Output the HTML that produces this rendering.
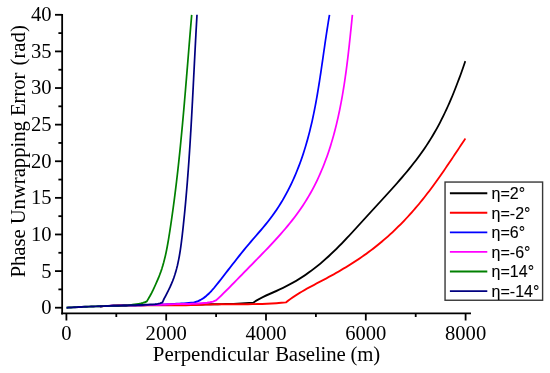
<!DOCTYPE html>
<html><head><meta charset="utf-8"><title>Phase Unwrapping Error vs Perpendicular Baseline</title>
<style>
html,body{margin:0;padding:0;background:#fff;}
svg{display:block}
.t{font-family:"Liberation Serif",serif;font-size:20.6px;fill:#000}
.l{font-family:"Liberation Sans",sans-serif;font-size:16px;fill:#000;stroke:#000;stroke-width:0.1px}
</style></head><body>
<svg width="550" height="373" viewBox="0 0 550 373">
<rect width="550" height="373" fill="#fff"/>

<g transform="scale(0.88,1)" fill="none" stroke-width="1.95" stroke-linejoin="round" stroke-linecap="butt">
<path d="M113.64,306.24 L118.10,306.10 L122.56,305.97 L127.03,305.83 L131.49,305.70 L135.96,305.58 L140.42,305.47 L144.88,305.39 L149.35,305.33 L153.81,305.27 L158.28,305.23 L162.74,305.18 L167.20,305.14 L171.67,305.09 L176.13,305.03 L180.59,304.97 L185.06,304.92 L189.52,304.86 L193.99,304.81 L198.45,304.77 L202.91,304.74 L207.38,304.71 L211.84,304.67 L216.31,304.64 L220.77,304.59 L225.23,304.53 L229.70,304.45 L234.16,304.37 L238.62,304.30 L243.09,304.24 L247.55,304.20 L252.02,304.15 L256.48,304.09 L260.94,304.01 L265.41,303.87 L269.87,303.65 L274.34,303.41 L278.80,303.11 L283.26,302.87 L287.74,302.72 L291.25,300.65 L294.88,298.78 L298.61,297.07 L302.41,295.48 L306.26,293.97 L310.13,292.50 L314.00,291.00 L317.84,289.46 L321.65,287.85 L325.42,286.18 L329.16,284.44 L332.86,282.64 L336.51,280.77 L340.11,278.85 L343.67,276.86 L347.18,274.81 L350.63,272.70 L354.03,270.52 L357.37,268.29 L360.66,266.01 L363.90,263.67 L367.09,261.28 L370.24,258.85 L373.35,256.37 L376.42,253.85 L379.45,251.30 L382.46,248.71 L385.43,246.09 L388.38,243.44 L391.30,240.77 L394.21,238.07 L397.09,235.36 L399.97,232.63 L402.83,229.89 L405.68,227.14 L408.53,224.38 L411.38,221.62 L414.23,218.86 L417.08,216.10 L419.94,213.35 L422.80,210.60 L425.67,207.86 L428.54,205.12 L431.41,202.38 L434.27,199.64 L437.13,196.90 L439.98,194.15 L442.82,191.40 L445.65,188.64 L448.46,185.87 L451.25,183.09 L454.02,180.30 L456.77,177.49 L459.50,174.67 L462.19,171.83 L464.86,168.97 L467.49,166.10 L470.10,163.20 L472.66,160.27 L475.18,157.33 L477.67,154.35 L480.10,151.35 L482.50,148.32 L484.84,145.25 L487.13,142.15 L489.37,139.02 L491.55,135.85 L493.68,132.66 L495.77,129.43 L497.80,126.17 L499.78,122.88 L501.72,119.57 L503.61,116.24 L505.45,112.88 L507.26,109.50 L509.02,106.11 L510.74,102.69 L512.42,99.27 L514.07,95.83 L515.68,92.38 L517.25,88.92 L518.79,85.45 L520.30,81.97 L521.78,78.50 L523.23,75.01 L524.65,71.53 L526.04,68.05 L527.41,64.57 L528.75,61.10" stroke="#000000"/>
<path d="M113.64,306.24 L119.06,306.07 L124.48,305.90 L129.90,305.73 L135.31,305.58 L140.73,305.46 L146.15,305.38 L151.57,305.32 L156.99,305.26 L162.41,305.22 L167.83,305.20 L173.25,305.20 L178.67,305.23 L184.09,305.26 L189.51,305.29 L194.93,305.30 L200.35,305.29 L205.77,305.26 L211.19,305.21 L216.61,305.15 L222.03,305.04 L227.45,304.74 L232.87,304.50 L238.29,304.42 L243.71,304.36 L249.13,304.31 L254.55,304.27 L259.97,304.24 L265.38,304.21 L270.80,304.18 L276.22,304.16 L281.64,304.15 L287.06,304.12 L292.48,304.06 L297.90,303.92 L303.32,303.72 L308.74,303.49 L314.16,303.20 L319.58,302.83 L324.99,302.39 L327.50,300.68 L330.04,299.04 L332.62,297.44 L335.24,295.90 L337.88,294.39 L340.56,292.93 L343.26,291.51 L345.98,290.11 L348.72,288.74 L351.48,287.40 L354.25,286.07 L357.03,284.76 L359.81,283.46 L362.60,282.16 L365.39,280.86 L368.18,279.56 L370.97,278.26 L373.74,276.94 L376.51,275.60 L379.27,274.26 L382.02,272.90 L384.75,271.52 L387.48,270.13 L390.19,268.72 L392.89,267.29 L395.58,265.85 L398.25,264.38 L400.91,262.90 L403.56,261.40 L406.19,259.88 L408.80,258.33 L411.40,256.77 L413.98,255.18 L416.54,253.57 L419.08,251.94 L421.60,250.28 L424.11,248.59 L426.59,246.89 L429.06,245.15 L431.50,243.40 L433.93,241.62 L436.33,239.82 L438.72,237.99 L441.08,236.15 L443.42,234.28 L445.75,232.39 L448.05,230.49 L450.33,228.56 L452.59,226.61 L454.83,224.65 L457.05,222.66 L459.25,220.66 L461.42,218.64 L463.58,216.60 L465.71,214.55 L467.82,212.48 L469.91,210.40 L471.97,208.30 L474.02,206.18 L476.04,204.06 L478.04,201.91 L480.02,199.76 L481.99,197.59 L483.93,195.41 L485.85,193.22 L487.76,191.02 L489.65,188.81 L491.53,186.58 L493.39,184.35 L495.23,182.11 L497.07,179.86 L498.89,177.60 L500.70,175.34 L502.50,173.07 L504.30,170.79 L506.08,168.50 L507.85,166.21 L509.62,163.92 L511.38,161.62 L513.14,159.32 L514.89,157.01 L516.64,154.70 L518.39,152.39 L520.14,150.08 L521.88,147.76 L523.62,145.45 L525.37,143.13 L527.11,140.81 L528.86,138.50" stroke="#ff0000"/>
<path d="M113.64,306.24 L116.36,306.15 L119.09,306.07 L121.81,305.99 L124.53,305.91 L127.26,305.83 L129.98,305.75 L132.71,305.68 L135.43,305.60 L138.16,305.54 L140.88,305.47 L143.60,305.41 L146.33,305.36 L149.05,305.32 L151.78,305.28 L154.50,305.25 L157.23,305.21 L159.95,305.18 L162.67,305.14 L165.40,305.10 L168.12,305.05 L170.85,304.99 L173.57,304.92 L176.30,304.83 L179.02,304.73 L181.75,304.61 L184.47,304.49 L187.19,304.37 L189.92,304.24 L192.64,304.12 L195.37,303.99 L198.09,303.88 L200.82,303.76 L203.54,303.64 L206.26,303.51 L208.99,303.37 L211.71,303.21 L214.44,303.03 L217.16,302.82 L219.88,302.61 L223.98,301.53 L227.76,300.00 L231.27,298.09 L234.55,295.86 L237.62,293.37 L240.53,290.69 L243.31,287.86 L246.01,284.94 L248.66,282.00 L251.28,279.06 L253.88,276.12 L256.47,273.19 L259.04,270.26 L261.61,267.34 L264.18,264.43 L266.75,261.53 L269.34,258.63 L271.93,255.75 L274.55,252.87 L277.19,250.01 L279.86,247.16 L282.56,244.32 L285.30,241.49 L288.06,238.67 L290.83,235.85 L293.60,233.03 L296.37,230.20 L299.11,227.35 L301.81,224.48 L304.47,221.58 L307.07,218.65 L309.60,215.68 L312.05,212.67 L314.43,209.62 L316.74,206.53 L318.97,203.41 L321.14,200.25 L323.23,197.05 L325.26,193.83 L327.23,190.57 L329.12,187.28 L330.96,183.96 L332.73,180.62 L334.45,177.25 L336.10,173.85 L337.69,170.44 L339.23,167.00 L340.72,163.54 L342.15,160.06 L343.53,156.56 L344.85,153.04 L346.13,149.51 L347.36,145.97 L348.54,142.41 L349.68,138.85 L350.77,135.27 L351.82,131.68 L352.83,128.09 L353.80,124.49 L354.74,120.88 L355.63,117.26 L356.50,113.64 L357.33,110.01 L358.14,106.37 L358.92,102.73 L359.67,99.09 L360.40,95.44 L361.11,91.79 L361.79,88.13 L362.46,84.47 L363.12,80.81 L363.76,77.14 L364.39,73.48 L365.01,69.81 L365.62,66.14 L366.23,62.47 L366.83,58.80 L367.43,55.13 L368.03,51.46 L368.63,47.79 L369.23,44.13 L369.84,40.46 L370.46,36.80 L371.09,33.14 L371.73,29.48 L372.38,25.83 L373.05,22.18 L373.73,18.54 L374.43,14.90" stroke="#0000ff"/>
<path d="M113.64,306.24 L117.01,306.13 L120.39,306.03 L123.77,305.93 L127.14,305.83 L130.52,305.73 L133.90,305.63 L137.28,305.54 L140.65,305.47 L144.03,305.40 L147.41,305.36 L150.78,305.32 L154.16,305.28 L157.54,305.25 L160.91,305.22 L164.29,305.19 L167.67,305.14 L171.05,305.09 L174.42,305.00 L177.80,304.88 L181.18,304.74 L184.55,304.59 L187.93,304.44 L191.31,304.31 L194.69,304.21 L198.06,304.14 L201.44,304.09 L204.82,304.05 L208.19,304.01 L211.57,303.97 L214.95,303.91 L218.32,303.84 L221.70,303.74 L225.08,303.56 L228.46,303.31 L231.83,303.01 L235.21,302.67 L238.59,302.23 L241.96,301.60 L245.36,300.42 L248.47,297.94 L251.51,295.41 L254.51,292.84 L257.46,290.27 L260.40,287.69 L263.31,285.09 L266.20,282.49 L269.09,279.89 L271.97,277.28 L274.86,274.66 L277.76,272.04 L280.67,269.42 L283.60,266.79 L286.54,264.15 L289.48,261.51 L292.43,258.86 L295.38,256.20 L298.32,253.53 L301.26,250.85 L304.19,248.16 L307.10,245.45 L310.00,242.73 L312.87,239.98 L315.72,237.23 L318.54,234.45 L321.32,231.65 L324.07,228.83 L326.78,225.99 L329.45,223.12 L332.07,220.23 L334.64,217.31 L337.15,214.36 L339.61,211.39 L342.01,208.38 L344.34,205.34 L346.60,202.27 L348.79,199.17 L350.92,196.03 L352.98,192.87 L354.98,189.67 L356.91,186.45 L358.78,183.20 L360.59,179.92 L362.33,176.61 L364.03,173.28 L365.66,169.92 L367.24,166.54 L368.76,163.14 L370.23,159.72 L371.65,156.27 L373.02,152.80 L374.34,149.32 L375.61,145.82 L376.83,142.30 L378.01,138.76 L379.15,135.21 L380.24,131.64 L381.29,128.06 L382.30,124.46 L383.27,120.85 L384.21,117.23 L385.11,113.61 L385.97,109.97 L386.80,106.32 L387.60,102.66 L388.37,99.00 L389.10,95.33 L389.81,91.66 L390.49,87.98 L391.15,84.30 L391.78,80.62 L392.39,76.94 L392.98,73.25 L393.54,69.56 L394.09,65.88 L394.62,62.20 L395.13,58.52 L395.63,54.84 L396.11,51.17 L396.58,47.51 L397.04,43.85 L397.49,40.19 L397.93,36.55 L398.36,32.91 L398.79,29.29 L399.21,25.67 L399.62,22.07 L400.04,18.48 L400.45,14.90" stroke="#ff00ff"/>
<path d="M75.57,307.70 L77.91,307.58 L80.25,307.47 L82.60,307.36 L84.94,307.25 L87.28,307.15 L89.62,307.05 L91.97,306.96 L94.31,306.87 L96.65,306.79 L98.99,306.70 L101.34,306.62 L103.68,306.55 L106.02,306.47 L108.37,306.40 L110.71,306.32 L113.05,306.25 L115.39,306.18 L117.74,306.11 L120.08,306.05 L122.42,305.99 L124.76,305.94 L127.11,305.89 L129.45,305.84 L131.79,305.80 L134.13,305.74 L136.48,305.68 L138.82,305.61 L141.16,305.53 L143.51,305.44 L145.85,305.31 L148.19,305.10 L150.53,304.83 L152.88,304.53 L155.22,304.21 L157.56,303.85 L159.90,303.44 L162.25,302.93 L164.59,302.26 L166.93,301.30 L168.77,298.44 L170.64,295.61 L172.43,292.75 L174.07,289.82 L175.61,286.83 L177.14,283.82 L178.68,280.81 L180.16,277.78 L181.54,274.72 L182.81,271.64 L183.99,268.53 L185.08,265.40 L186.08,262.26 L187.01,259.09 L187.87,255.91 L188.67,252.72 L189.42,249.51 L190.12,246.29 L190.78,243.07 L191.40,239.84 L192.00,236.60 L192.59,233.36 L193.16,230.12 L193.72,226.87 L194.27,223.63 L194.81,220.38 L195.34,217.14 L195.86,213.89 L196.38,210.64 L196.88,207.39 L197.38,204.14 L197.87,200.89 L198.35,197.64 L198.82,194.39 L199.28,191.13 L199.74,187.88 L200.19,184.62 L200.63,181.37 L201.06,178.11 L201.49,174.85 L201.91,171.59 L202.32,168.33 L202.73,165.07 L203.13,161.81 L203.52,158.55 L203.91,155.29 L204.30,152.03 L204.68,148.77 L205.05,145.50 L205.42,142.24 L205.78,138.97 L206.14,135.71 L206.49,132.44 L206.84,129.18 L207.19,125.91 L207.53,122.65 L207.87,119.38 L208.20,116.11 L208.53,112.85 L208.86,109.58 L209.18,106.31 L209.50,103.04 L209.82,99.77 L210.14,96.50 L210.46,93.24 L210.77,89.97 L211.08,86.70 L211.39,83.43 L211.70,80.16 L212.00,76.89 L212.31,73.62 L212.61,70.35 L212.92,67.08 L213.22,63.82 L213.52,60.55 L213.83,57.28 L214.13,54.01 L214.43,50.74 L214.74,47.47 L215.04,44.20 L215.35,40.93 L215.65,37.67 L215.96,34.40 L216.27,31.13 L216.58,27.87 L216.89,24.60 L217.21,21.33 L217.52,18.07 L217.84,14.80" stroke="#008000"/>
<path d="M75.57,307.70 L78.37,307.56 L81.16,307.43 L83.96,307.30 L86.76,307.17 L89.55,307.05 L92.35,306.94 L95.15,306.84 L97.95,306.74 L100.74,306.64 L103.54,306.55 L106.34,306.46 L109.13,306.37 L111.93,306.29 L114.73,306.20 L117.53,306.12 L120.32,306.04 L123.12,305.96 L125.92,305.89 L128.72,305.81 L131.51,305.74 L134.31,305.67 L137.11,305.60 L139.90,305.52 L142.70,305.45 L145.50,305.37 L148.30,305.29 L151.09,305.23 L153.89,305.16 L156.69,305.09 L159.48,305.02 L162.28,304.94 L165.08,304.84 L167.88,304.72 L170.67,304.59 L173.47,304.42 L176.27,304.18 L179.06,303.85 L181.86,303.40 L184.66,302.40 L185.68,300.30 L186.57,298.49 L188.33,295.65 L190.03,292.79 L191.67,289.89 L193.24,286.98 L194.73,284.03 L196.13,281.05 L197.43,278.04 L198.61,275.00 L199.69,271.93 L200.66,268.83 L201.55,265.70 L202.35,262.56 L203.09,259.40 L203.76,256.23 L204.38,253.04 L204.94,249.85 L205.47,246.65 L205.96,243.44 L206.42,240.23 L206.85,237.02 L207.27,233.80 L207.68,230.59 L208.08,227.37 L208.47,224.15 L208.85,220.94 L209.23,217.72 L209.60,214.50 L209.95,211.29 L210.30,208.07 L210.65,204.85 L210.98,201.64 L211.31,198.42 L211.63,195.20 L211.94,191.98 L212.25,188.77 L212.55,185.55 L212.85,182.33 L213.13,179.11 L213.42,175.89 L213.69,172.68 L213.96,169.46 L214.23,166.24 L214.49,163.02 L214.74,159.80 L214.99,156.58 L215.24,153.36 L215.48,150.14 L215.72,146.92 L215.95,143.70 L216.18,140.48 L216.40,137.27 L216.62,134.05 L216.84,130.83 L217.05,127.61 L217.26,124.38 L217.47,121.16 L217.68,117.94 L217.88,114.72 L218.08,111.50 L218.28,108.28 L218.47,105.06 L218.67,101.84 L218.86,98.62 L219.05,95.40 L219.24,92.17 L219.43,88.95 L219.62,85.73 L219.80,82.51 L219.99,79.28 L220.17,76.06 L220.36,72.84 L220.55,69.62 L220.73,66.39 L220.92,63.17 L221.10,59.95 L221.29,56.72 L221.48,53.50 L221.67,50.27 L221.86,47.05 L222.05,43.83 L222.24,40.60 L222.44,37.38 L222.63,34.15 L222.83,30.93 L223.03,27.70 L223.24,24.48 L223.44,21.25 L223.65,18.03 L223.86,14.80" stroke="#000080"/>
</g>
<g stroke="#000" stroke-width="1.8" fill="none">
<path d="M62.15,13.9 V314.4"/>
<path d="M61.25,313.45 H471"/>
<path d="M55,307.70 H62.2"/>
<path d="M55,271.09 H62.2"/>
<path d="M55,234.47 H62.2"/>
<path d="M55,197.86 H62.2"/>
<path d="M55,161.25 H62.2"/>
<path d="M55,124.64 H62.2"/>
<path d="M55,88.03 H62.2"/>
<path d="M55,51.41 H62.2"/>
<path d="M55,14.80 H62.2"/>
<path d="M58.4,289.39 H62.2"/>
<path d="M58.4,252.78 H62.2"/>
<path d="M58.4,216.17 H62.2"/>
<path d="M58.4,179.56 H62.2"/>
<path d="M58.4,142.94 H62.2"/>
<path d="M58.4,106.33 H62.2"/>
<path d="M58.4,69.72 H62.2"/>
<path d="M58.4,33.11 H62.2"/>
<path d="M66.40,313.2 V320.5"/>
<path d="M166.20,313.2 V320.5"/>
<path d="M266.00,313.2 V320.5"/>
<path d="M365.80,313.2 V320.5"/>
<path d="M465.60,313.2 V320.5"/>
<path d="M116.30,313.2 V317"/>
<path d="M216.10,313.2 V317"/>
<path d="M315.90,313.2 V317"/>
<path d="M415.70,313.2 V317"/>
</g>
<text class="t" x="51.6" y="314.1" text-anchor="end">0</text>
<text class="t" x="51.6" y="277.5" text-anchor="end">5</text>
<text class="t" x="51.6" y="240.9" text-anchor="end">10</text>
<text class="t" x="51.6" y="204.3" text-anchor="end">15</text>
<text class="t" x="51.6" y="167.7" text-anchor="end">20</text>
<text class="t" x="51.6" y="131.0" text-anchor="end">25</text>
<text class="t" x="51.6" y="94.4" text-anchor="end">30</text>
<text class="t" x="51.6" y="57.8" text-anchor="end">35</text>
<text class="t" x="51.6" y="21.2" text-anchor="end">40</text>
<text class="t" x="66.4" y="339.7" text-anchor="middle">0</text>
<text class="t" x="166.2" y="339.7" text-anchor="middle">2000</text>
<text class="t" x="266.0" y="339.7" text-anchor="middle">4000</text>
<text class="t" x="365.8" y="339.7" text-anchor="middle">6000</text>
<text class="t" x="465.6" y="339.7" text-anchor="middle">8000</text>
<text class="t" style="font-size:20.8px" x="152.75" y="360.7" text-anchor="start" textLength="116.2" lengthAdjust="spacing">Perpendicular</text>
<text class="t" style="font-size:20.8px" x="380.25" y="360.7" text-anchor="end" textLength="105.1" lengthAdjust="spacing">Baseline (m)</text>
<text class="t" style="font-size:20.8px" transform="translate(25.45,277.5) rotate(-90)" text-anchor="start" textLength="205" lengthAdjust="spacing">Phase Unwrapping Error</text>
<text class="t" style="font-size:20.8px" transform="translate(25.45,25.1) rotate(-90)" text-anchor="end">(rad)</text>
<rect x="445.05" y="182.05" width="97.55" height="118.2" fill="#fff" stroke="#383838" stroke-width="1.4"/>
<path d="M449.9,193.20 H487.3" stroke="#000000" stroke-width="1.85" fill="none"/>
<text class="l" x="491.6" y="199.1">η=2°</text>
<path d="M449.9,212.77 H487.3" stroke="#ff0000" stroke-width="1.85" fill="none"/>
<text class="l" x="491.6" y="218.6">η=-2°</text>
<path d="M449.9,232.34 H487.3" stroke="#0000ff" stroke-width="1.85" fill="none"/>
<text class="l" x="491.6" y="238.1">η=6°</text>
<path d="M449.9,251.91 H487.3" stroke="#ff00ff" stroke-width="1.85" fill="none"/>
<text class="l" x="491.6" y="257.6">η=-6°</text>
<path d="M449.9,271.48 H487.3" stroke="#008000" stroke-width="1.85" fill="none"/>
<text class="l" x="491.6" y="277.1">η=14°</text>
<path d="M449.9,291.05 H487.3" stroke="#000080" stroke-width="1.85" fill="none"/>
<text class="l" x="491.6" y="296.6">η=-14°</text>
</svg></body></html>
